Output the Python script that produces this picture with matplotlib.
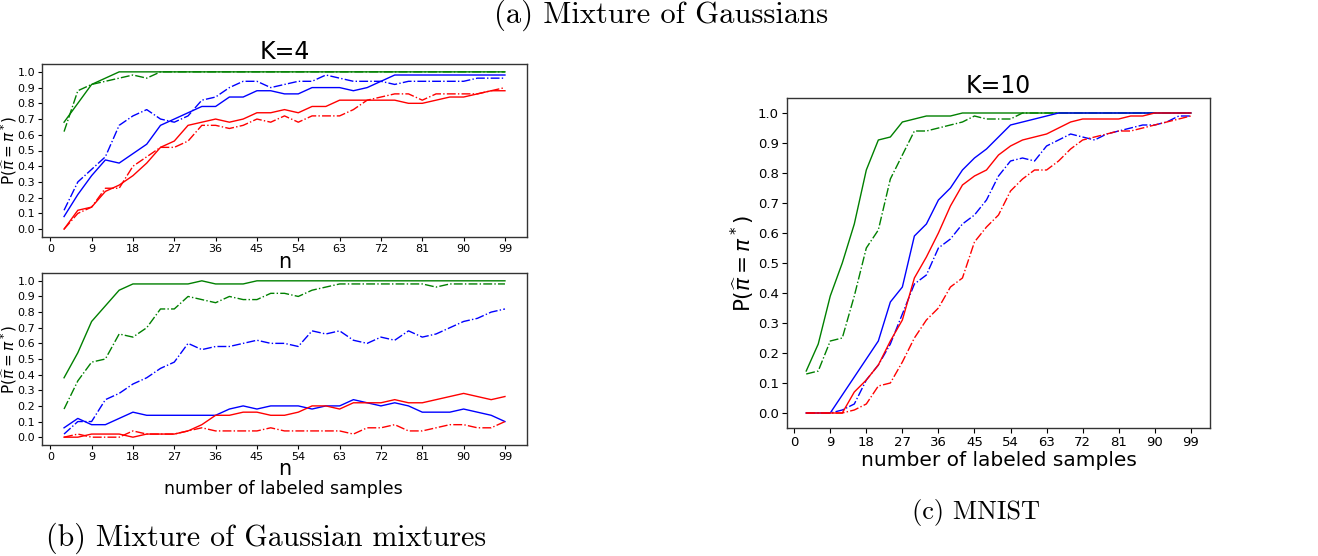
import matplotlib
matplotlib.use("Agg")
import matplotlib.pyplot as plt

# ---------------- data ----------------
n_values = [3, 6, 9, 12, 15, 18, 21, 24, 27, 30, 33, 36, 39, 42, 45, 48, 51,
            54, 57, 60, 63, 66, 69, 72, 75, 78, 81, 84, 87, 90, 93, 96, 99]
x_ticks = [0, 9, 18, 27, 36, 45, 54, 63, 72, 81, 90, 99]
y_ticks = [0.0, 0.1, 0.2, 0.3, 0.4, 0.5, 0.6, 0.7, 0.8, 0.9, 1.0]

# (a) Mixture of Gaussians, K=4
a_green_solid = [0.68, 0.80, 0.92, 0.96] + [1.00] * 29
a_green_dash = [0.62, 0.88, 0.92, 0.94, 0.96, 0.98, 0.96] + [1.00] * 26
a_blue_solid = [0.08, 0.22, 0.34, 0.44, 0.42, 0.48, 0.54, 0.66, 0.70, 0.74, 0.78,
                0.78, 0.84, 0.84, 0.88, 0.88, 0.86, 0.86, 0.90, 0.90, 0.90, 0.88,
                0.90, 0.94, 0.98, 0.98, 0.98, 0.98, 0.98, 0.98, 0.98, 0.98, 0.98]
a_blue_dash = [0.12, 0.30, 0.38, 0.46, 0.66, 0.72, 0.76, 0.70, 0.68, 0.72, 0.82,
               0.84, 0.90, 0.94, 0.94, 0.90, 0.92, 0.94, 0.94, 0.98, 0.96, 0.94,
               0.94, 0.94, 0.92, 0.94, 0.94, 0.94, 0.94, 0.94, 0.96, 0.96, 0.96]
a_red_solid = [0.00, 0.12, 0.14, 0.24, 0.28, 0.34, 0.42, 0.52, 0.56, 0.66, 0.68,
               0.70, 0.68, 0.70, 0.74, 0.74, 0.76, 0.74, 0.78, 0.78, 0.82, 0.82,
               0.82, 0.82, 0.82, 0.80, 0.80, 0.82, 0.84, 0.84, 0.86, 0.88, 0.88]
a_red_dash = [0.00, 0.10, 0.14, 0.26, 0.26, 0.40, 0.46, 0.52, 0.52, 0.56, 0.66,
              0.66, 0.64, 0.66, 0.70, 0.68, 0.72, 0.68, 0.72, 0.72, 0.72, 0.76,
              0.82, 0.84, 0.86, 0.86, 0.82, 0.86, 0.86, 0.86, 0.86, 0.88, 0.90]

# (b) Mixture of Gaussian mixtures
b_green_solid = [0.38, 0.54, 0.74, 0.84, 0.94, 0.98, 0.98, 0.98, 0.98, 0.98, 1.00,
                 0.98, 0.98, 0.98] + [1.00] * 19
b_green_dash = [0.18, 0.36, 0.48, 0.50, 0.66, 0.64, 0.70, 0.82, 0.82, 0.90, 0.88,
                0.86, 0.90, 0.88, 0.88, 0.92, 0.92, 0.90, 0.94, 0.96, 0.98, 0.98,
                0.98, 0.98, 0.98, 0.98, 0.98, 0.96, 0.98, 0.98, 0.98, 0.98, 0.98]
b_blue_solid = [0.06, 0.12, 0.08, 0.08, 0.12, 0.16, 0.14, 0.14, 0.14, 0.14, 0.14,
                0.14, 0.18, 0.20, 0.18, 0.20, 0.20, 0.20, 0.18, 0.20, 0.20, 0.24,
                0.22, 0.20, 0.22, 0.20, 0.16, 0.16, 0.16, 0.18, 0.16, 0.14, 0.10]
b_blue_dash = [0.02, 0.10, 0.10, 0.24, 0.28, 0.34, 0.38, 0.44, 0.48, 0.60, 0.56,
               0.58, 0.58, 0.60, 0.62, 0.60, 0.60, 0.58, 0.68, 0.66, 0.68, 0.62,
               0.60, 0.64, 0.62, 0.68, 0.64, 0.66, 0.70, 0.74, 0.76, 0.80, 0.82]
b_red_solid = [0.00, 0.00, 0.02, 0.02, 0.02, 0.00, 0.02, 0.02, 0.02, 0.04, 0.08,
               0.14, 0.14, 0.16, 0.16, 0.14, 0.14, 0.16, 0.20, 0.20, 0.18, 0.22,
               0.22, 0.22, 0.24, 0.22, 0.22, 0.24, 0.26, 0.28, 0.26, 0.24, 0.26]
b_red_dash = [0.00, 0.02, 0.00, 0.00, 0.00, 0.04, 0.02, 0.02, 0.02, 0.04, 0.06,
              0.04, 0.04, 0.04, 0.04, 0.06, 0.04, 0.04, 0.04, 0.04, 0.04, 0.02,
              0.06, 0.06, 0.08, 0.04, 0.04, 0.06, 0.08, 0.08, 0.06, 0.06, 0.10]

# (c) MNIST, K=10
c_green_solid = [0.14, 0.23, 0.39, 0.50, 0.63, 0.81, 0.91, 0.92, 0.97, 0.98, 0.99,
                 0.99, 0.99] + [1.00] * 20
c_green_dash = [0.13, 0.14, 0.24, 0.25, 0.39, 0.55, 0.61, 0.78, 0.86, 0.94, 0.94,
                0.95, 0.96, 0.97, 0.99, 0.98, 0.98, 0.98] + [1.00] * 15
c_blue_solid = [0.00, 0.00, 0.00, 0.06, 0.12, 0.18, 0.24, 0.37, 0.42, 0.59, 0.63,
                0.71, 0.75, 0.81, 0.85, 0.88, 0.92, 0.96, 0.97, 0.98, 0.99] + [1.00] * 12
c_blue_dash = [0.00, 0.00, 0.00, 0.01, 0.03, 0.11, 0.16, 0.23, 0.33, 0.43, 0.46,
               0.55, 0.58, 0.63, 0.66, 0.71, 0.79, 0.84, 0.85, 0.84, 0.89, 0.91,
               0.93, 0.92, 0.91, 0.93, 0.94, 0.95, 0.96, 0.96, 0.97, 0.99, 0.99]
c_red_solid = [0.00, 0.00, 0.00, 0.00, 0.07, 0.11, 0.16, 0.24, 0.31, 0.45, 0.52,
               0.60, 0.69, 0.76, 0.79, 0.81, 0.86, 0.89, 0.91, 0.92, 0.93, 0.95,
               0.97, 0.98, 0.98, 0.98, 0.98, 0.99, 0.99, 1.00, 1.00, 1.00, 1.00]
c_red_dash = [0.00, 0.00, 0.00, 0.00, 0.01, 0.03, 0.09, 0.10, 0.17, 0.25, 0.31,
              0.35, 0.42, 0.45, 0.57, 0.62, 0.66, 0.74, 0.78, 0.81, 0.81, 0.84,
              0.88, 0.91, 0.92, 0.93, 0.94, 0.94, 0.95, 0.96, 0.97, 0.98, 0.99]

ylabel = r"P($\widehat{\pi} = \pi^*$)"

# ---------------- figure ----------------
W, H = 1318, 556
fig = plt.figure(figsize=(W / 100, H / 100), dpi=100)


def box(l, t, r, b):
    return [l / W, 1 - b / H, (r - l) / W, (b - t) / H]


def draw(ax, series, tick_fs, lw=1.0, tick_len=3.5, pad=2.5):
    for vals, color, ls in series:
        ax.plot(n_values, vals, color=color, linestyle=ls, linewidth=lw)
    ax.set_xticks(x_ticks)
    ax.set_yticks(y_ticks)
    ax.set_yticklabels([f"{v:.1f}" for v in y_ticks])
    ax.tick_params(labelsize=tick_fs, length=tick_len, width=0.8, pad=pad)
    for s in ax.spines.values():
        s.set_color("#333333")
        s.set_linewidth(1.0)


# top-left: (a)
L, R = 42, 527
ax1 = fig.add_axes(box(L, 64, R, 237))
draw(ax1, [(a_green_solid, "green", "-"), (a_green_dash, "green", "-."),
           (a_blue_solid, "blue", "-"), (a_blue_dash, "blue", "-."),
           (a_red_solid, "red", "-"), (a_red_dash, "red", "-.")], 8, tick_len=3, pad=2)
ax1.set_title("K=4", fontsize=17, pad=2)
ax1.set_xlabel("n", fontsize=15)
ax1.xaxis.set_label_coords(0.5, -(262 - 237) / (237 - 64), transform=ax1.transAxes)
ax1.xaxis.label.set_va("center")
ax1.set_ylabel(ylabel, fontsize=11)
ax1.yaxis.set_label_coords(-(L - 19) / (R - L), 0.5, transform=ax1.transAxes)

# bottom-left: (b)
ax2 = fig.add_axes(box(L, 273, R, 445))
draw(ax2, [(b_green_solid, "green", "-"), (b_green_dash, "green", "-."),
           (b_blue_solid, "blue", "-"), (b_blue_dash, "blue", "-."),
           (b_red_solid, "red", "-"), (b_red_dash, "red", "-.")], 8, tick_len=3, pad=2)
ax2.set_xlabel("n", fontsize=15)
ax2.xaxis.set_label_coords(0.5, -(469 - 445) / (445 - 273), transform=ax2.transAxes)
ax2.xaxis.label.set_va("center")
ax2.set_ylabel(ylabel, fontsize=11)
ax2.yaxis.set_label_coords(-(L - 19) / (R - L), 0.5, transform=ax2.transAxes)

# right: (c)
ax3 = fig.add_axes(box(787, 98, 1210, 428))
draw(ax3, [(c_green_solid, "green", "-"), (c_green_dash, "green", "-."),
           (c_blue_solid, "blue", "-"), (c_blue_dash, "blue", "-."),
           (c_red_solid, "red", "-"), (c_red_dash, "red", "-.")], 9.5)
ax3.set_title("K=10", fontsize=17, pad=3)
ax3.set_xlabel("number of labeled samples", fontsize=14.5, labelpad=1)
ax3.set_ylabel(ylabel, fontsize=15.5)
ax3.yaxis.set_label_coords(-(787 - 757) / (1210 - 787), 0.5, transform=ax3.transAxes)

fig.text(283 / W, 1 - 489 / H, "number of labeled samples", fontsize=12.5,
         ha="center", va="center")

fig.text(661 / W, 1 - 15 / H, "(a) Mixture of Gaussians", fontsize=22,
         family="cmr10", ha="center", va="center")
fig.text(266 / W, 1 - 538 / H, "(b) Mixture of Gaussian mixtures", fontsize=21.5,
         family="cmr10", ha="center", va="center")
fig.text(976 / W, 1 - 512 / H, "(c) MNIST", fontsize=19,
         family="cmr10", ha="center", va="center")

fig.savefig("out.png", dpi=100)
